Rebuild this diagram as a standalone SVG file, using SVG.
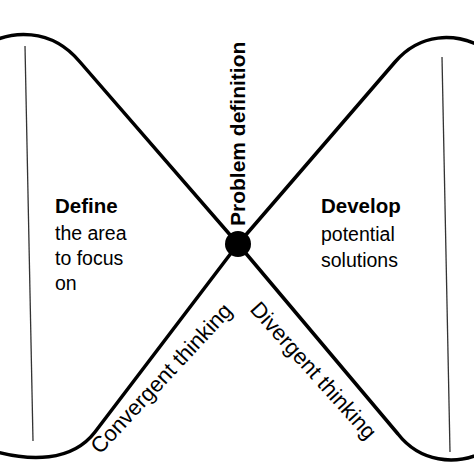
<svg xmlns="http://www.w3.org/2000/svg" width="474" height="474" viewBox="0 0 474 474">
<style>
.edge{fill:none;stroke:#000;stroke-width:3.5;stroke-linecap:round;stroke-linejoin:round}
.axis{stroke:#333;stroke-width:1.3}
text{font-family:"Liberation Sans",Arial,sans-serif;fill:#000}
.title{font-size:20.5px;font-weight:bold}
.body{font-size:19.5px}
.lab{font-size:22px}
</style>
<rect width="474" height="474" fill="#fff"/>
<g id="connectors">
<path class="edge" d="M -10,43 C 10,32 50,26 80,62 L 238,244"/>
<path class="edge" d="M 238,244 L 95,432 C 72,462 30,462 -10,450"/>
<path class="edge" d="M 238,244 L 395,62 C 420,33 455,32 484,48"/>
<path class="edge" d="M 238,244 L 398,434 C 420,462 455,466 484,452"/>
<line class="axis" x1="25" y1="46" x2="33" y2="441"/>
<line class="axis" x1="442" y1="57" x2="450" y2="452"/>
</g>
<g id="center">
<circle cx="238" cy="244" r="13" fill="#000"/>
</g>
<g id="problem-definition">
<text class="title" transform="translate(245,226) rotate(-90)" style="font-size:21px">Problem definition</text>
</g>
<g id="define">
<text class="title" x="55" y="213">Define</text>
<text class="body" x="55" y="240">the area</text>
<text class="body" x="55" y="265">to focus</text>
<text class="body" x="55" y="290">on</text>
</g>
<g id="develop">
<text class="title" x="321" y="213">Develop</text>
<text class="body" x="321" y="241">potential</text>
<text class="body" x="321" y="267">solutions</text>
</g>
<g id="convergent">
<text class="lab" transform="translate(100,455) rotate(-47)">Convergent thinking</text>
</g>
<g id="divergent">
<text class="lab" transform="translate(249,310) rotate(48)">Divergent thinking</text>
</g>
</svg>
